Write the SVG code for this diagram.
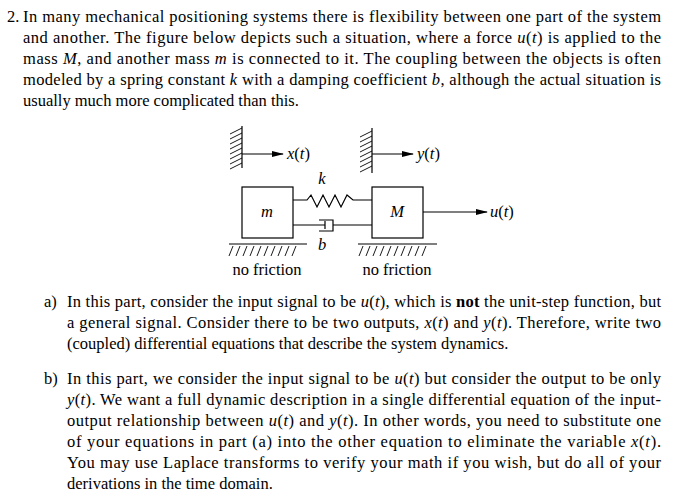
<svg xmlns="http://www.w3.org/2000/svg" width="689" height="496" viewBox="0 0 689 496" font-family="'Liberation Serif', 'Times New Roman', Times, serif">
<style>
text{font-family:'Liberation Serif','Times New Roman',Times,serif;font-size:16.5px;fill:#000}
.i{font-style:italic}
.l{stroke:#000;stroke-width:1.2;fill:none}
.h{stroke:#000;stroke-width:0.9}
</style>
<defs>
<marker id="a" markerWidth="12" markerHeight="8" refX="11" refY="4" orient="auto" markerUnits="userSpaceOnUse"><path d="M0,1 L12,4 L0,7 Z" fill="#000"/></marker>
</defs>
<rect width="689" height="496" fill="#fff"/>
<g id="problem-text">
<text x="7" y="22">2.</text>
<text x="23" y="22" textLength="638" lengthAdjust="spacing">In many mechanical positioning systems there is flexibility between one part of the system</text>
<text x="23" y="43" textLength="638" lengthAdjust="spacing">and another. The figure below depicts such a situation, where a force <tspan class="i">u</tspan>(<tspan class="i">t</tspan>) is applied to the</text>
<text x="23" y="64" textLength="638" lengthAdjust="spacing">mass <tspan class="i">M</tspan>, and another mass <tspan class="i">m</tspan> is connected to it. The coupling between the objects is often</text>
<text x="23" y="85" textLength="638" lengthAdjust="spacing">modeled by a spring constant <tspan class="i">k</tspan> with a damping coefficient <tspan class="i">b</tspan>, although the actual situation is</text>
<text x="23" y="106">usually much more complicated than this.</text>
</g>
<g id="wall-x">
<line class="l" x1="242" y1="126" x2="242" y2="168"/>
<path class="h" d="M242,128 l-12,6 M242,133 l-12,6 M242,138 l-12,6 M242,143 l-12,6 M242,148 l-12,6 M242,153 l-12,6 M242,158 l-12,6 M242,163 l-12,6"/>
<line class="l" x1="242" y1="154" x2="283" y2="154" marker-end="url(#a)"/>
<text x="287" y="159"><tspan class="i">x</tspan>(<tspan class="i">t</tspan>)</text>
</g>
<g id="wall-y">
<line class="l" x1="372" y1="128" x2="372" y2="173"/>
<path class="h" d="M372,131 l-12,6 M372,136 l-12,6 M372,141 l-12,6 M372,146 l-12,6 M372,151 l-12,6 M372,156 l-12,6 M372,161 l-12,6 M372,166 l-12,6"/>
<line class="l" x1="372" y1="154" x2="413" y2="154" marker-end="url(#a)"/>
<text x="417" y="159"><tspan class="i">y</tspan>(<tspan class="i">t</tspan>)</text>
</g>
<g id="mass-m">
<rect class="l" x="242" y="187" width="51" height="51"/>
<text class="i" x="267" y="217" text-anchor="middle">m</text>
</g>
<g id="mass-M">
<rect class="l" x="372" y="187" width="51" height="51"/>
<text class="i" x="397" y="217" text-anchor="middle">M</text>
</g>
<g id="connectors">
<path class="l" d="M293,200 H307 L311,195 L317,207 L323,195 L329,207 L335,195 L341,207 L347,195 L353,200 H372"/>
<text class="i" x="322" y="184" text-anchor="middle">k</text>
<path class="l" d="M293,225 H325 M325,221 V229 M319,220 H333 V231 H319 M333,225 H372"/>
<text class="i" x="322" y="250" text-anchor="middle">b</text>
<line class="l" x1="423" y1="212" x2="487" y2="212" marker-end="url(#a)"/>
<text x="490" y="217"><tspan class="i">u</tspan>(<tspan class="i">t</tspan>)</text>
</g>
<g id="ground-m">
<line class="l" x1="229" y1="244" x2="307" y2="244"/>
<path class="h" d="M233,246 l-4,10 M240,246 l-4,10 M247,246 l-4,10 M254,246 l-4,10 M261,246 l-4,10 M268,246 l-4,10 M275,246 l-4,10 M282,246 l-4,10 M289,246 l-4,10 M296,246 l-4,10"/>
<text x="267" y="275" text-anchor="middle">no friction</text>
</g>
<g id="ground-M">
<line class="l" x1="358" y1="244" x2="437" y2="244"/>
<path class="h" d="M363,246 l-4,10 M370,246 l-4,10 M377,246 l-4,10 M384,246 l-4,10 M391,246 l-4,10 M398,246 l-4,10 M405,246 l-4,10 M412,246 l-4,10 M419,246 l-4,10 M426,246 l-4,10"/>
<text x="397" y="275" text-anchor="middle">no friction</text>
</g>
<g id="part-a">
<text x="44" y="307">a)</text>
<text x="67" y="307" textLength="594" lengthAdjust="spacing">In this part, consider the input signal to be <tspan class="i">u</tspan>(<tspan class="i">t</tspan>), which is <tspan font-weight="bold">not</tspan> the unit-step function, but</text>
<text x="67" y="328" textLength="594" lengthAdjust="spacing">a general signal. Consider there to be two outputs, <tspan class="i">x</tspan>(<tspan class="i">t</tspan>) and <tspan class="i">y</tspan>(<tspan class="i">t</tspan>). Therefore, write two</text>
<text x="67" y="349">(coupled) differential equations that describe the system dynamics.</text>
</g>
<g id="part-b">
<text x="44" y="384">b)</text>
<text x="67" y="384" textLength="594" lengthAdjust="spacing">In this part, we consider the input signal to be <tspan class="i">u</tspan>(<tspan class="i">t</tspan>) but consider the output to be only</text>
<text x="67" y="405" textLength="594" lengthAdjust="spacing"><tspan class="i">y</tspan>(<tspan class="i">t</tspan>). We want a full dynamic description in a single differential equation of the input-</text>
<text x="67" y="426" textLength="594" lengthAdjust="spacing">output relationship between <tspan class="i">u</tspan>(<tspan class="i">t</tspan>) and <tspan class="i">y</tspan>(<tspan class="i">t</tspan>). In other words, you need to substitute one</text>
<text x="67" y="447" textLength="594" lengthAdjust="spacing">of your equations in part (a) into the other equation to eliminate the variable <tspan class="i">x</tspan>(<tspan class="i">t</tspan>).</text>
<text x="67" y="468" textLength="594" lengthAdjust="spacing">You may use Laplace transforms to verify your math if you wish, but do all of your</text>
<text x="67" y="489">derivations in the time domain.</text>
</g>
</svg>
